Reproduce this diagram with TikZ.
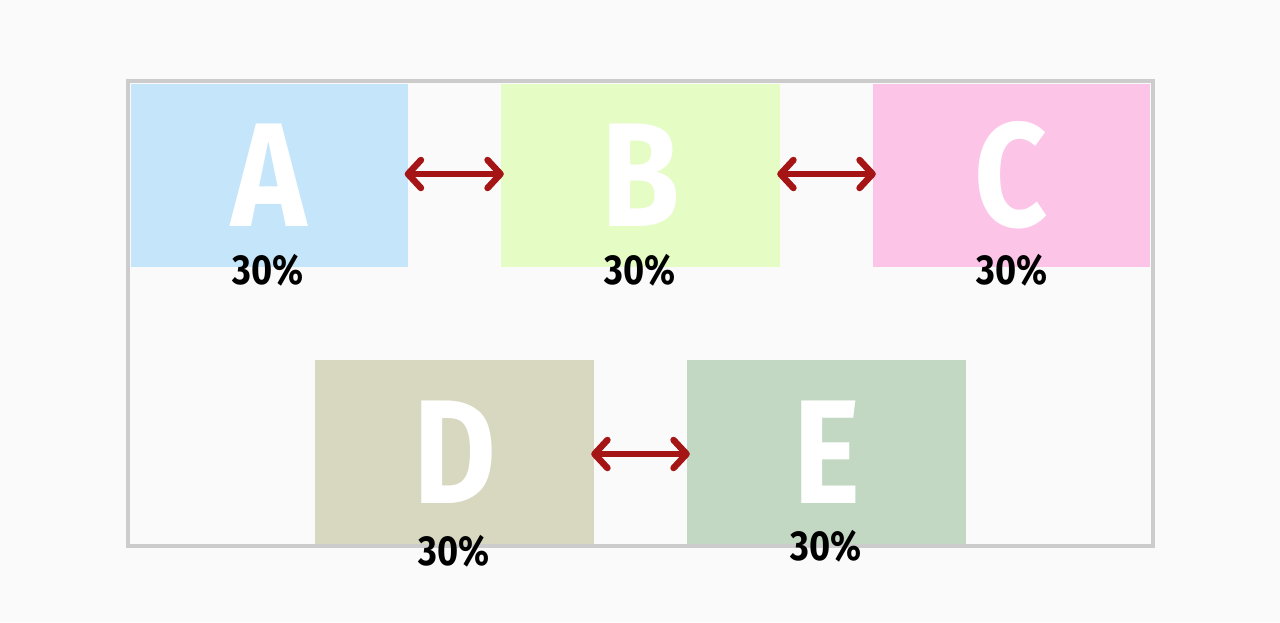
\documentclass[tikz,border=0pt]{standalone}
\usepackage{fontspec}
\newfontfamily\condfont[FakeStretch=0.86]{Fira Sans}
\usetikzlibrary{arrows.meta}
\definecolor{bgc}{HTML}{FAFAFA}
\definecolor{framec}{HTML}{CCCCCC}
\definecolor{ca}{HTML}{C5E6FA}
\definecolor{cb}{HTML}{E5FCC5}
\definecolor{cc}{HTML}{FCC5E7}
\definecolor{cd}{HTML}{D8D8C0}
\definecolor{ce}{HTML}{C2D8C2}
\definecolor{arrc}{HTML}{A51515}
\begin{document}
\begin{tikzpicture}[x=1pt,y=-1pt,
  blockbox/.style={inner sep=0pt, minimum width=278pt, minimum height=183pt,
    text=white, font=\condfont\bfseries\fontsize{148}{148}\selectfont},
  pctlabel/.style={inner sep=0pt, text=black, font=\condfont\bfseries\fontsize{42}{42}\selectfont},
  linkarrow/.style={draw=arrc, line width=6.5pt, line cap=round,
    {Straight Barb[length=13pt, width=28pt, line cap=round, line join=round]}-{Straight Barb[length=13pt, width=28pt, line cap=round, line join=round]},
    shorten <=-3pt, shorten >=-3pt}
]
\fill[bgc] (0,0) rectangle (1280,622);
\useasboundingbox (0,0) rectangle (1280,622);
\draw[framec, line width=4.5pt] (128,81) rectangle (1153,546);
\node[blockbox, fill=ca, minimum width=277pt] (A) at (269,175.5) {A};
\node[blockbox, fill=cb, minimum width=279pt] (B) at (640.5,175.5) {B};
\node[blockbox, fill=cc, minimum width=277pt] (C) at (1011.5,175.5) {C};
\node[blockbox, fill=cd, minimum width=279pt, minimum height=184pt] (D) at (454.5,452) {D};
\node[blockbox, fill=ce, minimum width=279pt, minimum height=184pt] (E) at (826.5,452) {E};
\node[pctlabel] (pa) at (268,270) {30\%};
\node[pctlabel] (pb) at (640,270) {30\%};
\node[pctlabel] (pc) at (1012,270) {30\%};
\node[pctlabel] (pd) at (454,551) {30\%};
\node[pctlabel] (pe) at (826,546) {30\%};
\draw[linkarrow] (A.east |- 0,174) -- (B.west |- 0,174);
\draw[linkarrow] (B.east |- 0,174) -- (C.west |- 0,174);
\draw[linkarrow] (D.east |- 0,454) -- (E.west |- 0,454);
\end{tikzpicture}
\end{document}
